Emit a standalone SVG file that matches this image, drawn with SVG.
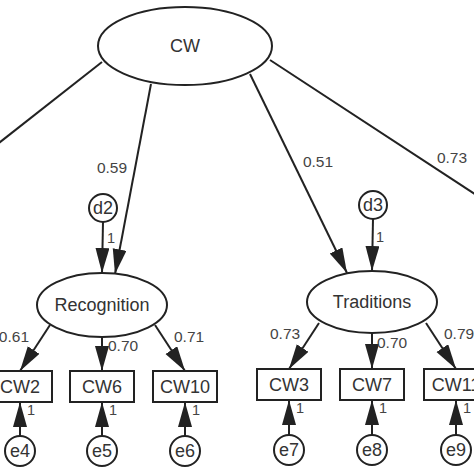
<svg xmlns="http://www.w3.org/2000/svg" width="474" height="474" viewBox="0 0 474 474">
<defs>
<marker id="ah" markerUnits="userSpaceOnUse" markerWidth="28" markerHeight="16" refX="25" refY="7" orient="auto">
<path d="M0,0 L25,7 L0,14 Z" fill="#222"/>
</marker>
<style>
.n{fill:#fff;stroke:#222;stroke-width:2}
.t{font-family:"Liberation Sans",Arial,sans-serif;font-size:18px;fill:#333;text-anchor:middle;dominant-baseline:central}
.l{font-family:"Liberation Sans",Arial,sans-serif;font-size:15.5px;fill:#444}
.o{font-family:"Liberation Sans",Arial,sans-serif;font-size:14.5px;fill:#444}
.c{stroke:#222;stroke-width:2;fill:none}
.a{marker-end:url(#ah)}
</style>
</defs>
<rect width="474" height="474" fill="#fff"/>
<g id="connectors">
<line class="c" x1="102" y1="62" x2="-10" y2="150"/>
<line class="c" x1="270" y1="60" x2="484" y2="200"/>
<line class="c a" x1="151" y1="84" x2="115" y2="274"/>
<line class="c a" x1="250" y1="74" x2="347" y2="273"/>
<line class="c a" x1="103" y1="222" x2="102" y2="273"/>
<line class="c a" x1="373" y1="219" x2="372" y2="271"/>
<line class="c a" x1="50" y1="325" x2="20" y2="371"/>
<line class="c a" x1="102" y1="337" x2="102" y2="371"/>
<line class="c a" x1="155" y1="325" x2="185" y2="371"/>
<line class="c a" x1="319" y1="323" x2="289" y2="369"/>
<line class="c a" x1="372" y1="333" x2="372" y2="369"/>
<line class="c a" x1="426" y1="323" x2="456" y2="369"/>
<line class="c a" x1="20" y1="436" x2="20" y2="402"/>
<line class="c a" x1="102" y1="436" x2="102" y2="402"/>
<line class="c a" x1="185" y1="436" x2="185" y2="402"/>
<line class="c a" x1="289" y1="435" x2="289" y2="400"/>
<line class="c a" x1="372" y1="435" x2="372" y2="400"/>
<line class="c a" x1="456" y1="435" x2="456" y2="400"/>
<text class="l" x="112" y="173" text-anchor="middle">0.59</text>
<text class="l" x="318" y="167" text-anchor="middle">0.51</text>
<text class="l" x="452" y="163" text-anchor="middle">0.73</text>
<text class="o" x="111" y="243" text-anchor="middle">1</text>
<text class="o" x="380" y="242" text-anchor="middle">1</text>
<text class="l" x="29" y="342" text-anchor="end">0.61</text>
<text class="l" x="108" y="351">0.70</text>
<text class="l" x="174" y="342">0.71</text>
<text class="l" x="270" y="339">0.73</text>
<text class="l" x="377" y="348">0.70</text>
<text class="l" x="444" y="339">0.79</text>
<text class="o" x="27" y="415">1</text>
<text class="o" x="109" y="415">1</text>
<text class="o" x="192" y="415">1</text>
<text class="o" x="296" y="413">1</text>
<text class="o" x="379" y="413">1</text>
<text class="o" x="463" y="413">1</text>
</g>
<g id="CW"><ellipse class="n" cx="185" cy="46" rx="87" ry="39"/><text class="t" x="185" y="46">CW</text></g>
<g id="Recognition"><ellipse class="n" cx="102" cy="305" rx="65" ry="32"/><text class="t" x="102" y="305">Recognition</text></g>
<g id="Traditions"><ellipse class="n" cx="372" cy="302" rx="65" ry="31"/><text class="t" x="372" y="302">Traditions</text></g>
<g id="d2"><circle class="n" cx="103" cy="208" r="14"/><text class="t" x="103" y="208">d2</text></g>
<g id="d3"><circle class="n" cx="373" cy="205" r="14"/><text class="t" x="373" y="205">d3</text></g>
<g id="CW2"><rect class="n" x="-12" y="371" width="64" height="31"/><text class="t" x="20" y="386.5">CW2</text></g>
<g id="CW6"><rect class="n" x="70" y="371" width="64" height="31"/><text class="t" x="102" y="386.5">CW6</text></g>
<g id="CW10"><rect class="n" x="153" y="371" width="64" height="31"/><text class="t" x="185" y="386.5">CW10</text></g>
<g id="CW3"><rect class="n" x="257" y="369" width="64" height="31"/><text class="t" x="289" y="384.5">CW3</text></g>
<g id="CW7"><rect class="n" x="340" y="369" width="64" height="31"/><text class="t" x="372" y="384.5">CW7</text></g>
<g id="CW11"><rect class="n" x="424" y="369" width="64" height="31"/><text class="t" x="456" y="384.5">CW11</text></g>
<g id="e4"><circle class="n" cx="20" cy="451" r="15"/><text class="t" x="20" y="451">e4</text></g>
<g id="e5"><circle class="n" cx="102" cy="451" r="15"/><text class="t" x="102" y="451">e5</text></g>
<g id="e6"><circle class="n" cx="185" cy="451" r="15"/><text class="t" x="185" y="451">e6</text></g>
<g id="e7"><circle class="n" cx="289" cy="450" r="15"/><text class="t" x="289" y="450">e7</text></g>
<g id="e8"><circle class="n" cx="372" cy="450" r="15"/><text class="t" x="372" y="450">e8</text></g>
<g id="e9"><circle class="n" cx="456" cy="450" r="15"/><text class="t" x="456" y="450">e9</text></g>
</svg>
